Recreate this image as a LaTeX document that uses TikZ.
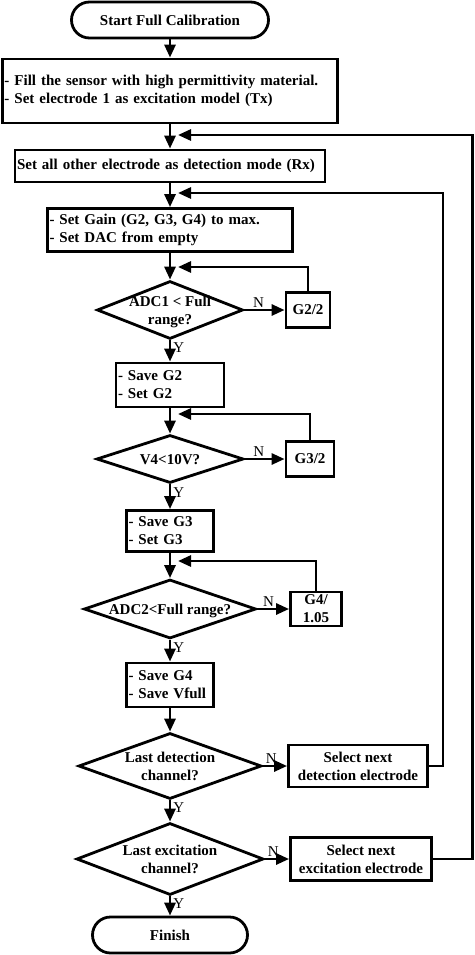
\documentclass[tikz,border=0pt]{standalone}
\usepackage{fontspec}
\setmainfont{Liberation Serif}
\usetikzlibrary{shapes.geometric,arrows.meta}
\newcommand\decide[1]{\smash{\raisebox{-5pt}{\makebox[0pt]{\begin{tabular}{@{}c@{}}#1\end{tabular}}}}}
\tikzset{
  box/.style = {draw, line width = 2.8pt, inner xsep = 2pt, inner ysep = 0pt, font = \bfseries\fontsize{15}{18}\selectfont},
  terminal/.style = {box, rounded corners = 18pt, minimum width = #1, minimum height = 36pt},
  decision/.style 2 args = {box, diamond, inner sep = 0pt, minimum width = #1, minimum height = #2},
  flow/.style = {line width = 2.8pt, -{Triangle[length=13pt,width=11pt]}},
  tag/.style = {inner sep = 1pt, font = \fontsize{15}{17}\selectfont}
}
\begin{document}
\begin{tikzpicture}[x=1pt,y=-1pt]
  \useasboundingbox (0,0) rectangle (474,955);
  % main column
  \node[terminal=197pt] (start) at (170,20) {Start Full Calibration};
  \node[box, text width=331pt, minimum height=64pt, align=left] (fill) at (170,91)
    {- Fill the sensor with high permittivity material.\\- Set electrode 1 as excitation model (Tx)};
  \node[box, text width=306pt, minimum height=32pt, align=left] (other) at (170,166)
    {Set all other electrode as detection mode (Rx)};
  \node[box, text width=241pt, minimum height=43pt, align=left] (gain) at (170,230)
    {- Set Gain (G2, G3, G4) to max.\\- Set DAC from empty};
  \node[decision={146pt}{58pt}] (adc1) at (170,310) {\decide{ADC1 < Full\\range?}};
  \node[box, text width=104pt, minimum height=44pt, align=left] (saveg2) at (170,385)
    {- Save G2\\- Set G2};
  \node[decision={147pt}{48pt}] (v4) at (170,459) {\decide{V4<10V?}};
  \node[box, text width=83pt, minimum height=41pt, align=left] (saveg3) at (170,531)
    {- Save G3\\- Set G3};
  \node[decision={172pt}{59pt}] (adc2) at (170,609) {\decide{ADC2<Full range?}};
  \node[box, text width=83pt, minimum height=44pt, align=left] (saveg4) at (170,685)
    {- Save G4\\- Save Vfull};
  \node[decision={183pt}{66pt}] (lastdet) at (170,766) {\decide{Last detection\\channel?}};
  \node[decision={187pt}{72pt}] (lastexc) at (170,859) {\decide{Last excitation\\channel?}};
  \node[terminal=155pt] (finish) at (170,935) {Finish};
  % side boxes
  \node[box, minimum width=44pt, minimum height=35pt, align=center] (g2half) at (308,310) {G2/2};
  \node[box, minimum width=48pt, minimum height=35pt, align=center] (g3half) at (310,459) {G3/2};
  \node[box, minimum width=51pt, minimum height=34pt, align=center] (g4div) at (316,609) {G4/\\1.05};
  \node[box, minimum width=139pt, minimum height=42pt, align=center] (nextdet) at (358,766)
    {Select next\\detection electrode};
  \node[box, minimum width=141pt, minimum height=43pt, align=center] (nextexc) at (361,859)
    {Select next\\excitation electrode};
  % loop ends
  \coordinate (backexc) at (178,135);
  \coordinate (rexc) at (472.5,135);
  \coordinate (backdet) at (178,193);
  \coordinate (rdet) at (443,193);
  \coordinate (back2) at (178,267);
  \coordinate (back3) at (178,414);
  \coordinate (back4) at (178,561);
  % flow
  \draw[flow] (start) -- (fill);
  \draw[flow] (fill) -- (other);
  \draw[flow] (other) -- (gain);
  \draw[flow] (gain) -- (adc1);
  \draw[flow] (adc1) -- node[tag, right=1pt, pos=0.35] {Y} (saveg2);
  \draw[flow] (adc1) -- node[tag, above, pos=0.35] {N} (g2half);
  \draw[flow] (g2half.north) |- (back2);
  \draw[flow] (saveg2) -- (v4);
  \draw[flow] (v4) -- node[tag, right=1pt, pos=0.35] {Y} (saveg3);
  \draw[flow] (v4) -- node[tag, above, pos=0.35] {N} (g3half);
  \draw[flow] (g3half.north) |- (back3);
  \draw[flow] (saveg3) -- (adc2);
  \draw[flow] (adc2) -- node[tag, right=1pt, pos=0.35] {Y} (saveg4);
  \draw[flow] (adc2) -- node[tag, above, pos=0.35] {N} (g4div);
  \draw[flow] (g4div.north) |- (back4);
  \draw[flow] (saveg4) -- (lastdet);
  \draw[flow] (lastdet) -- node[tag, above, pos=0.35] {N} (nextdet);
  \draw[flow] (nextdet.east) -| (rdet) -- (backdet);
  \draw[flow] (lastdet) -- node[tag, right=1pt, pos=0.35] {Y} (lastexc);
  \draw[flow] (lastexc) -- node[tag, above, pos=0.35] {N} (nextexc);
  \draw[flow] (nextexc.east) -| (rexc) -- (backexc);
  \draw[flow] (lastexc) -- node[tag, right=1pt, pos=0.35] {Y} (finish);
\end{tikzpicture}
\end{document}
